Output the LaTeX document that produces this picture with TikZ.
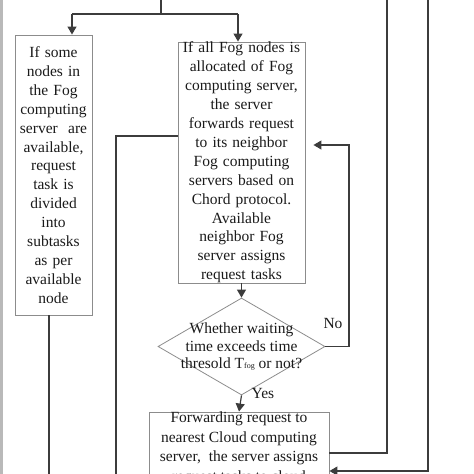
\documentclass[tikz,border=0pt]{standalone}
\usepackage{fontspec}
\setmainfont{Liberation Serif}
\usetikzlibrary{arrows.meta,shapes.geometric}
\definecolor{linec}{HTML}{3C3C3C}
\definecolor{boxc}{HTML}{8C8C8C}
\definecolor{txtc}{HTML}{1A1A1A}
\newcommand\mytxt{\fontsize{15.5}{18.9}\selectfont}
\newcommand\mydia{\fontsize{15.5}{17.5}\selectfont}
\newcommand\mybot{\fontsize{15.5}{19.5}\selectfont}
\begin{document}
\begin{tikzpicture}[x=1pt,y=-1pt,
  conn/.style={draw=linec, line width=1.2pt},
  arr/.style={conn, -{Triangle[length=8pt,width=9pt]}},
  box/.style={draw=boxc, line width=0.9pt, align=center, inner sep=0pt, text=txtc},
  lbl/.style={text=txtc, inner sep=0pt, font=\mytxt}]
\useasboundingbox (0,0) rectangle (474,474);
\clip (0,0) rectangle (474,474);
\fill[gray!55] (0,0) rectangle (2.5,474);

% boxes
\node[box, font=\mytxt, minimum width=77pt, minimum height=280pt, text width=75pt] (lbox) at (53.5,175)
  {If some\\nodes in\\the Fog\\computing\\server\ \ are\\available,\\request\\task is\\divided\\into\\subtasks\\as per\\available\\node};
\node[box, font=\mytxt, minimum width=127pt, minimum height=241pt, text width=125pt] (mbox) at (241.5,162.5)
  {If all Fog nodes is\\allocated of Fog\\computing server,\\the server\\forwards request\\to its neighbor\\Fog computing\\servers based on\\Chord protocol.\\Available\\neighbor Fog\\server assigns\\request tasks};
\node[draw=boxc, line width=0.8pt, shape=diamond, minimum width=167pt, minimum height=97pt, inner sep=0pt] (dia) at (241.5,346.5) {};
\node[lbl, font=\mydia, align=center] (diatext) at (dia.center)
  {Whether waiting\\time exceeds time\\thresold T{\fontsize{8}{8}\selectfont fog} or not?};
\node[box, minimum width=180pt, minimum height=90pt] (bbox) at (239,457) {};
\node[lbl, font=\mybot, align=center] (btext) at (239,448.5)
  {Forwarding request to\\nearest Cloud computing\\server,\ \ the server assigns\\request tasks to cloud};

% labels
\node[lbl] (no) at (333,323) {No};
\node[lbl] (yes) at (263,393) {Yes};

% coordinates
\coordinate (top) at (161,-5);
\coordinate (split) at (161,14);
\coordinate (la) at (72,14);
\coordinate (ra) at (238,14);
\coordinate (ld) at (49,480);
\coordinate (ml) at (116,136);
\coordinate (mld) at (116,480);
\coordinate (noc) at (349,346.5);
\coordinate (noup) at (349,145);
\coordinate (r1b) at (387,453);
\coordinate (r1t) at (387,-5);
\coordinate (r2t) at (428,-5);
\coordinate (r2b) at (428,471);

% connectors
\draw[conn] (top) -- (split);
\draw[conn] (la) -- (ra);
\draw[arr] (la) -- (la |- lbox.north);
\draw[arr] (ra) -- (ra |- mbox.north);
\draw[conn] (lbox.south -| ld) -- (ld);
\draw[conn] (mbox.west |- ml) -- (ml) -- (mld);
\draw[arr] (mbox.south) -- (dia.north);
\draw[arr, shorten >=8pt] (dia.east) -- (noc) -- (noup) -- (mbox.east |- noup);
\draw[arr] (dia.south) -- (bbox.north);
\draw[conn] (bbox.east |- r1b) -- (r1b) -- (r1t);
\draw[arr] (r2t) -- (r2b) -- (bbox.east |- r2b);
\end{tikzpicture}
\end{document}
